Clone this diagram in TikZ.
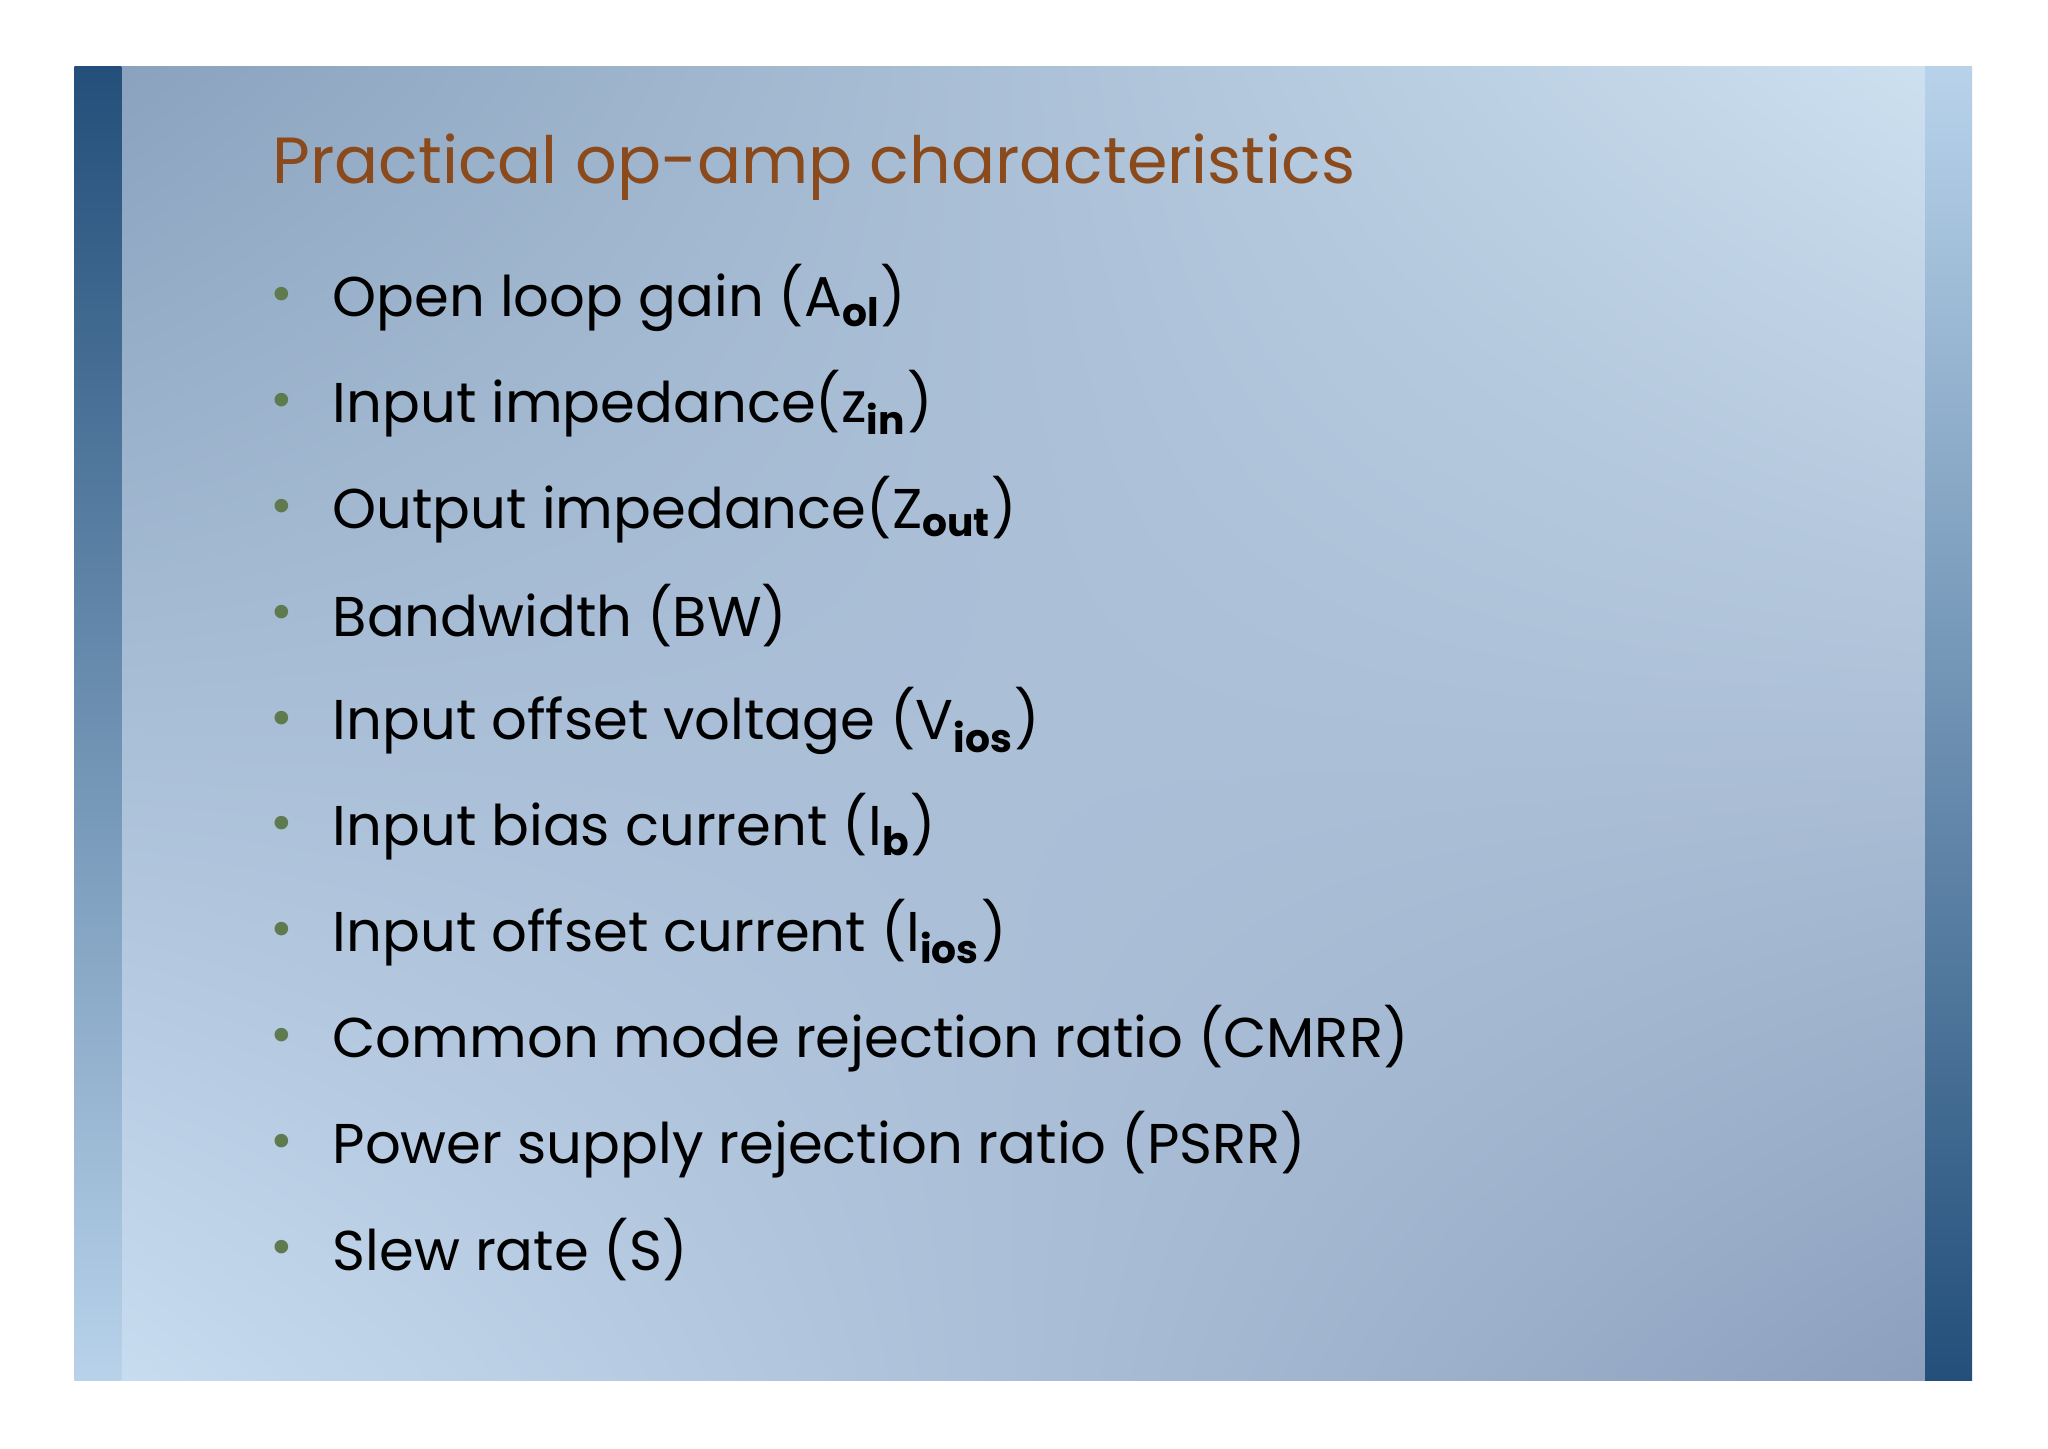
\documentclass[tikz,border=0pt]{standalone}
\usepackage{fontspec}
\setmainfont{Poppins}
\usetikzlibrary{shadings}
\definecolor{titlec}{HTML}{8B4A1C}
\definecolor{bulc}{HTML}{5E7A4E}
\definecolor{darkb}{HTML}{234F7A}
\definecolor{lightb}{HTML}{B8D2EA}
\definecolor{ulc}{RGB}{138,162,190}
\definecolor{urc}{RGB}{205,224,240}
\definecolor{llc}{RGB}{200,220,240}
\definecolor{lrc}{RGB}{140,160,190}
\tikzset{item/.style={anchor=west,font=\fontsize{12.2}{14}\selectfont,text=black,inner sep=0pt},
bul/.style={anchor=center,font=\fontsize{12}{14}\selectfont,text=bulc,inner sep=0pt}}
\newcommand{\sbb}[1]{\textsubscript{\textbf{#1}}}
\begin{document}
\begin{tikzpicture}[x=0.01cm,y=-0.01cm]
\useasboundingbox (0,0) rectangle (1568,1109);
\fill[white] (0,0) rectangle (1568,1109);
\shade[upper left=ulc,upper right=urc,lower left=llc,lower right=lrc] (93,51) rectangle (1474,1057);
\shade[top color=darkb,bottom color=lightb] (57,51) rectangle (93,1057);
\shade[top color=lightb,bottom color=darkb] (1474,51) rectangle (1510,1057);
\node[anchor=west,inner sep=0pt,text=titlec,font=\fontsize{14.2}{16}\selectfont] (title) at (208,128) {Practical op-amp characteristics};
\foreach \i/\t in {0/{Open loop gain (A\sbb{ol})},1/{Input impedance(z\sbb{in})},2/{Output impedance(Z\sbb{out})},3/{Bandwidth (BW)},4/{Input offset voltage (V\sbb{ios})},5/{Input bias current (I\sbb{b})},6/{Input offset current (I\sbb{ios})},7/{Common mode rejection ratio (CMRR)},8/{Power supply rejection ratio (PSRR)},9/{Slew rate (S)}}{
\node[bul] (b\i) at (216,{230+81*\i}) {•};
\node[item] (t\i) at (254,{228+81*\i}) {\t};
}
\end{tikzpicture}
\end{document}
